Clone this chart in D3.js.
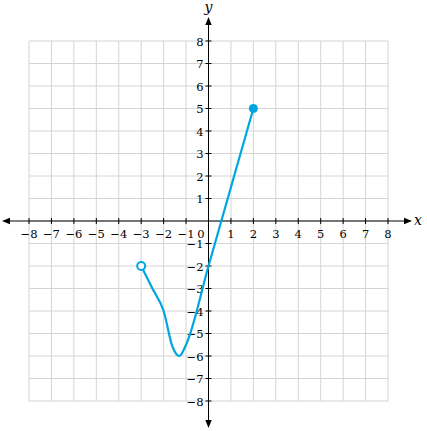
<!DOCTYPE html>
<html><head><meta charset="utf-8">
<script src="https://cdn.jsdelivr.net/npm/d3@7"></script>
<style>body{margin:0;background:#fff}</style>
</head><body>
<svg width="427" height="431"></svg>
<script>
var ticks = [-8,-7,-6,-5,-4,-3,-2,-1,1,2,3,4,5,6,7,8];
var gridVals = d3.range(-8, 9);
var curveX = [-3, -2.5, -2, -1.6, -1.3, -1, 0, 2];
var curveY = [-2, -3, -4, -5.6, -6, -5.5, -2, 5];
var openPt = [-3, -2];
var closedPt = [2, 5];

var svg = d3.select('svg');
var sx = d3.scaleLinear().domain([-8, 8]).range([29, 388]);
var sy = d3.scaleLinear().domain([-8, 8]).range([401, 41]);
var blue = '#00a6e0';
var font = 'DejaVu Serif, Liberation Serif, serif';

var defs = svg.append('defs');
defs.append('marker').attr('id','arr').attr('viewBox','0 0 10 10').attr('refX',5).attr('refY',5)
    .attr('markerWidth',8).attr('markerHeight',8).attr('orient','auto-start-reverse')
    .append('path').attr('d','M0,1L10,5L0,9Z').attr('fill','#000');

svg.selectAll('.gx').data(gridVals).enter().append('line')
    .attr('x1', d => sx(d)).attr('x2', d => sx(d))
    .attr('y1', sy(-8)).attr('y2', sy(8))
    .attr('stroke', '#d4d4d4').attr('stroke-width', 1);
svg.selectAll('.gy').data(gridVals).enter().append('line')
    .attr('y1', d => sy(d)).attr('y2', d => sy(d))
    .attr('x1', sx(-8)).attr('x2', sx(8))
    .attr('stroke', '#d4d4d4').attr('stroke-width', 1);

// axes
svg.append('line').attr('x1', 6).attr('x2', 408).attr('y1', sy(0)).attr('y2', sy(0))
    .attr('stroke','#000').attr('stroke-width',1)
    .attr('marker-start','url(#arr)').attr('marker-end','url(#arr)');
svg.append('line').attr('y1', 424).attr('y2', 21).attr('x1', sx(0)).attr('x2', sx(0))
    .attr('stroke','#000').attr('stroke-width',1)
    .attr('marker-start','url(#arr)').attr('marker-end','url(#arr)');

svg.selectAll('.tx').data(ticks).enter().append('line')
    .attr('x1', d => sx(d)).attr('x2', d => sx(d))
    .attr('y1', sy(0) - 3).attr('y2', sy(0) + 3).attr('stroke','#000');
svg.selectAll('.ty').data(ticks).enter().append('line')
    .attr('y1', d => sy(d)).attr('y2', d => sy(d))
    .attr('x1', sx(0) - 3).attr('x2', sx(0) + 3).attr('stroke','#000');

var fmt = d => (d < 0 ? '\u2212' + (-d) : '' + d);
svg.selectAll('.lx').data(ticks).enter().append('text')
    .attr('x', d => sx(d)).attr('y', sy(0) + 17)
    .attr('text-anchor','middle').attr('font-family', font).attr('font-size', 11.5)
    .text(fmt);
svg.selectAll('.ly').data(ticks).enter().append('text')
    .attr('x', sx(0) - 5).attr('y', d => sy(d) + 4.5)
    .attr('text-anchor','end').attr('font-family', font).attr('font-size', 11.5)
    .text(fmt);
svg.append('text').attr('x', sx(0) - 4).attr('y', sy(0) + 17).attr('text-anchor','end')
    .attr('font-family', font).attr('font-size', 11.5).text('0');
svg.append('text').attr('x', 414).attr('y', sy(0) + 4).attr('font-family', font)
    .attr('font-style','italic').attr('font-size', 14).text('x');
svg.append('text').attr('x', sx(0)).attr('y', 12).attr('text-anchor','middle').attr('font-family', font)
    .attr('font-style','italic').attr('font-size', 14).text('y');

var pts = curveX.map((x, i) => [x, curveY[i]]);
svg.append('path').datum(pts)
    .attr('d', d3.line().x(d => sx(d[0])).y(d => sy(d[1])).curve(d3.curveMonotoneX))
    .attr('fill','none').attr('stroke', blue).attr('stroke-width', 2.2);

svg.append('circle').attr('cx', sx(openPt[0])).attr('cy', sy(openPt[1])).attr('r', 4)
    .attr('fill','#fff').attr('stroke', blue).attr('stroke-width', 2);
svg.append('circle').attr('cx', sx(closedPt[0])).attr('cy', sy(closedPt[1])).attr('r', 4.5)
    .attr('fill', blue);
</script>
</body></html>
